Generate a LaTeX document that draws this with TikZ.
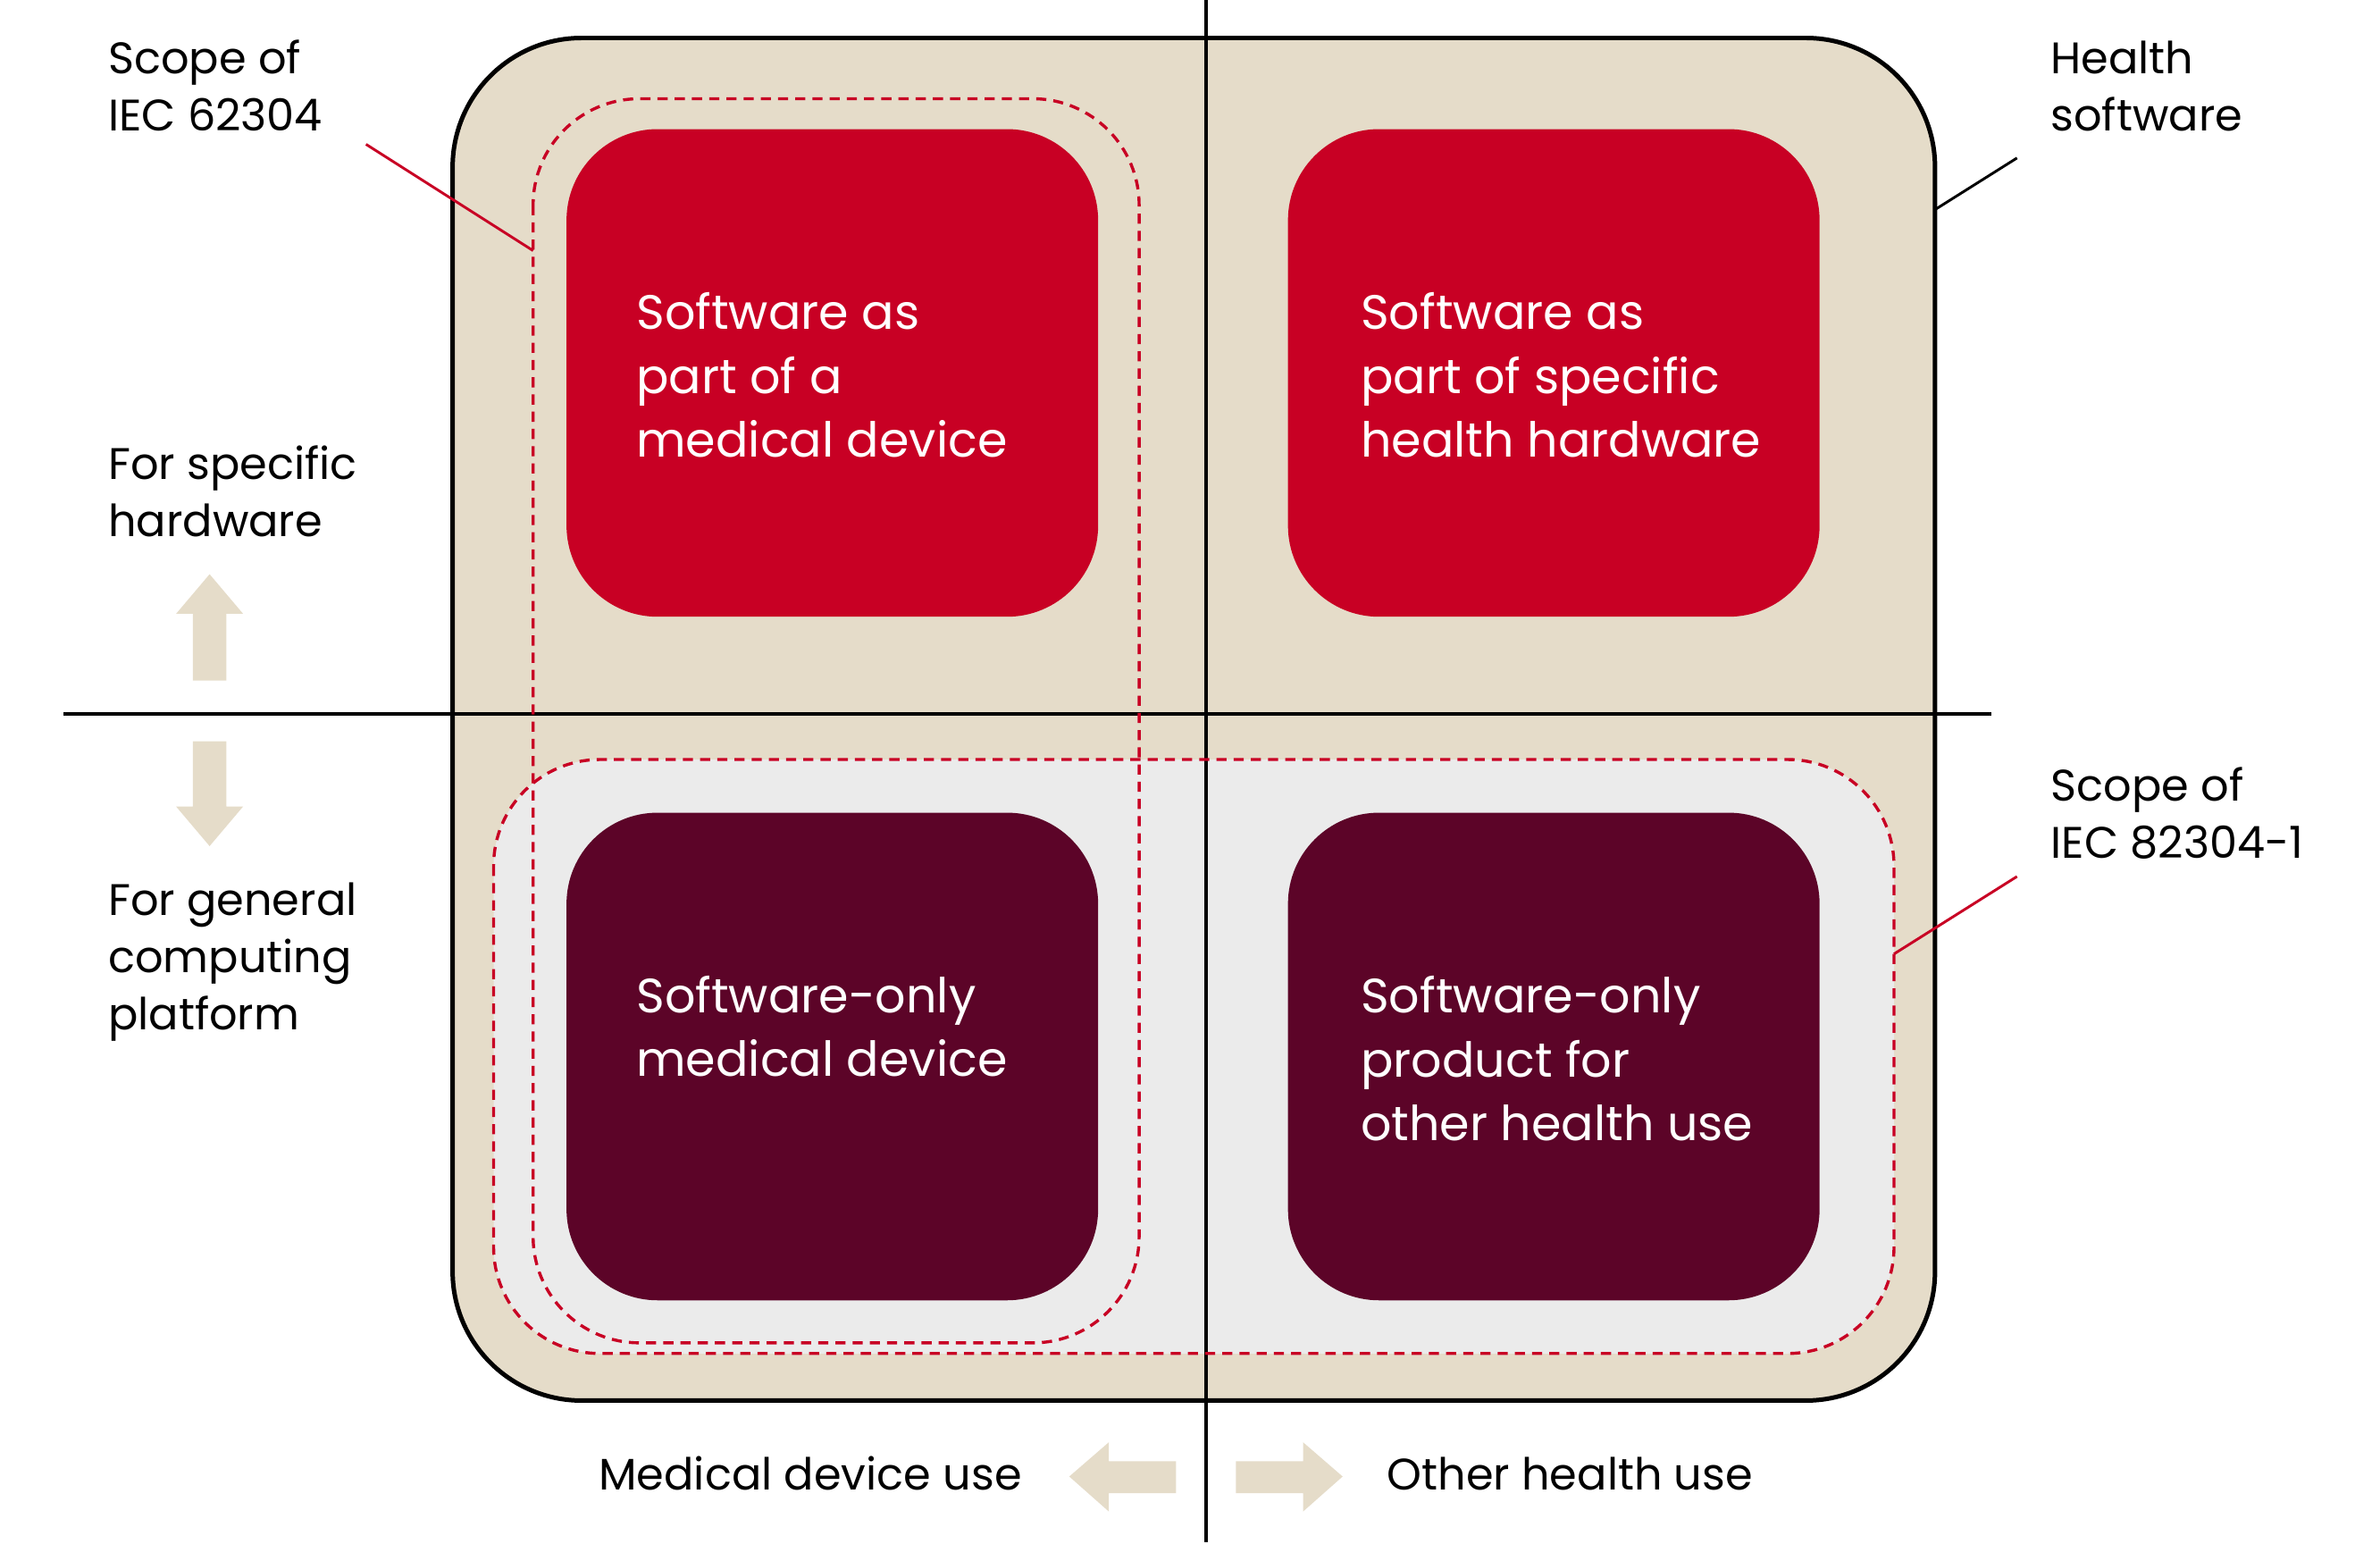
\documentclass[tikz,border=0pt]{standalone}
\usepackage{fontspec}
\setmainfont{Poppins}
\usetikzlibrary{positioning,calc}
\definecolor{hsBeige}{HTML}{E5DCC9}
\definecolor{hsGrey}{HTML}{EBEBEB}
\definecolor{hsRed}{HTML}{C80024}
\definecolor{hsWine}{HTML}{5C0428}
\tikzset{
  quadbox/.style={rounded corners=45pt, minimum width=262.5pt, minimum height=240.75pt, inner sep=0pt},
  quadtext/.style={text=white, align=left, inner sep=0pt, font=\fontsize{23.8}{31.4}\selectfont},
  sidelabel/.style={align=left, inner sep=0pt, font=\fontsize{21.8}{28.2}\selectfont},
  scopeline/.style={draw=hsRed, line width=1.5pt, dash pattern=on 5pt off 3.5pt},
  axisline/.style={line width=1.9pt},
  dirarrow/.style={fill=hsBeige}
}
\begin{document}
\begin{tikzpicture}[x=0.75pt,y=0.75pt,yscale=-1,xscale=1]
\useasboundingbox (0,0) rectangle (1567,1016);

%Shape: Health software frame
\draw[fill=hsBeige, line width=2.2pt, rounded corners=63.75pt] (298,25) rectangle (1274,922);
%Shape: Scope of IEC 82304-1 (fill)
\fill[hsGrey, rounded corners=52.5pt] (325,500) rectangle (1247,891);

%Straight Lines: axes
\coordinate (vtop) at (794,0);
\coordinate (vbot) at (794,1015);
\coordinate (hleft) at (42,470);
\coordinate (hright) at (1311,470);
\draw[axisline] (vtop) -- (vbot);
\draw[axisline] (hleft) -- (hright);

%Shape: quadrants
\node[quadbox, fill=hsRed] (devhw) at (548,245.5) {};
\node[quadbox, fill=hsRed] (healthhw) at (1023,245.5) {};
\node[quadbox, fill=hsWine] (devsw) at (548,695.5) {};
\node[quadbox, fill=hsWine] (healthsw) at (1023,695.5) {};

%Shape: scope outlines
\draw[scopeline, rounded corners=52.5pt] (351,65) rectangle (750,884);
\draw[scopeline, rounded corners=52.5pt] (325,500) rectangle (1247,891);

% Text Node
\node[quadtext, anchor=base west] (devhwtxt) at ($(devhw.north west)+(46,216)$) {Software as\\part of a\\medical device};
% Text Node
\node[quadtext, anchor=base west] (healthhwtxt) at ($(healthhw.north west)+(48,216)$) {Software as\\part of specific\\health hardware};
% Text Node
\node[quadtext, anchor=base west] (devswtxt) at ($(devsw.north west)+(46,174)$) {Software-only\\medical device};
% Text Node
\node[quadtext, anchor=base west] (healthswtxt) at ($(healthsw.north west)+(48,216)$) {Software-only\\product for\\other health use};

% Text Node
\node[sidelabel, anchor=base west] (scopeA) at (71,86) {Scope of\\IEC 62304};
% Text Node
\node[sidelabel, anchor=base west] (healthsoft) at (1350,86) {Health\\software};
% Text Node
\node[sidelabel, anchor=base west] (specific) at (71,353) {For specific\\hardware};
% Text Node
\node[sidelabel, anchor=base west] (general) at (71,678) {For general\\computing\\platform};
% Text Node
\node[sidelabel, anchor=base west] (scopeB) at (1350,565) {Scope of\\IEC 82304-1};
% Text Node
\node[sidelabel, anchor=base east] (meduse) at (673,981) {Medical device use};
% Text Node
\node[sidelabel, anchor=base west] (otheruse) at (913,981) {Other health use};

%Straight Lines: leaders
\coordinate (scopeAfrom) at (241,95);
\coordinate (scopeAto) at (351,165);
\coordinate (healthfrom) at (1328,104);
\coordinate (healthto) at (1274,138);
\coordinate (scopeBfrom) at (1328,577);
\coordinate (scopeBto) at (1247,628);
\draw[hsRed, line width=1.3pt] (scopeAfrom) -- (scopeAto);
\draw[line width=1.3pt] (healthfrom) -- (healthto);
\draw[hsRed, line width=1.3pt] (scopeBfrom) -- (scopeBto);

%Shape: direction arrows
\fill[dirarrow] (127,448) -- (127,404) -- (116,404) -- (138,378) -- (160,404) -- (149,404) -- (149,448) -- cycle;
\fill[dirarrow] (127,488) -- (149,488) -- (149,531) -- (160,531) -- (138,557) -- (116,531) -- (127,531) -- cycle;
\fill[dirarrow] (774.3,962) -- (730,962) -- (730,949.5) -- (704,972) -- (730,995) -- (730,983) -- (774.3,983) -- cycle;
\fill[dirarrow] (813.7,962) -- (858,962) -- (858,949.5) -- (884,972) -- (858,995) -- (858,983) -- (813.7,983) -- cycle;
\end{tikzpicture}
\end{document}
